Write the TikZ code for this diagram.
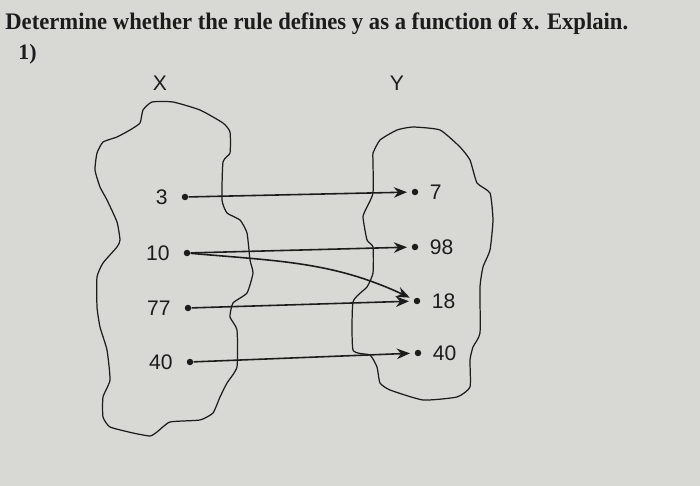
\documentclass[tikz,border=0pt]{standalone}
\usepackage{fontspec}
\setsansfont{Liberation Sans}
\newfontfamily\titlefont{Liberation Serif}
\usetikzlibrary{positioning, arrows.meta}
\definecolor{paper}{RGB}{216,216,212}
\definecolor{ink}{RGB}{28,28,28}

\begin{document}
\begin{tikzpicture}[x=0.02cm, y=-0.02cm,
    dot/.style={circle, fill=ink, inner sep=0, minimum size=0.13cm},
    num/.style={font=\sffamily\fontsize{12}{14}\selectfont, text=ink, inner sep=0},
    maps/.style={-{Stealth[length=7.5pt,width=6pt]}, line width=0.9pt, draw=ink, shorten >=2.5pt},
    blob/.style={draw=ink, line width=0.7pt, line join=round}]
      \fill[paper] (0,0) rectangle (700,486);
      \useasboundingbox (0,0) rectangle (700,486);
      \node[anchor=base west, inner sep=0, text=ink] (title) at (5,30)
      {\scalebox{0.955}[1]{\titlefont\fontsize{13.5}{15}\selectfont\bfseries
          Determine whether the rule defines y as a function of x. Explain.}};
      \node[anchor=base west, inner sep=0, text=ink] (qnum) at (18,60)
      {\titlefont\fontsize{12.5}{15}\selectfont\bfseries 1)};
      \node[num] (setx) at (160,83) {X};
      \node[num] (sety) at (397,83) {Y};
      \draw[blob] plot[smooth cycle, tension=0.3] coordinates {
        (152,102) (173,102) (200,110) (223,123) (230,132) (230,153) (223,162)
        (222,200) (227,213) (240,220) (247,233) (250,260) (253,273) (247,293)
        (233,303) (230,317) (237,330) (237,367) (227,383) (220,397) (213,413)
        (200,420) (170,422) (157,432) (150,436) (133,433) (110,427) (103,417)
        (103,397) (110,380) (107,350) (100,327) (97,307) (97,277) (103,263)
        (117,247) (120,240) (117,222) (107,200) (100,187) (95,170) (97,153)
        (103,142) (117,137) (130,130) (140,123) (143,110)};
      \draw[blob] plot[smooth cycle, tension=0.3] coordinates {
        (373,153) (380,140) (397,130) (413,127) (440,130) (460,147) (470,160)
        (477,183) (490,193) (493,220) (490,250) (483,267) (480,287) (480,333)
        (473,347) (470,360) (470,387) (457,397) (423,400) (390,390) (380,383)
        (377,367) (370,355) (353,350) (353,302) (367,287) (373,273) (373,247)
        (367,240) (363,217) (367,207) (373,193) (373,160)};
      \node[dot] (x3) at (185,197) {};
      \node[dot] (x10) at (187,253) {};
      \node[dot] (x77) at (188,308) {};
      \node[dot] (x40) at (190,362) {};
      \node[dot] (y7) at (415,192) {};
      \node[dot] (y98) at (415,247) {};
      \node[dot] (y18) at (417,301) {};
      \node[dot] (y40) at (418,353) {};
      \node[num, left=0.27cm of x3] {3};
      \node[num, left=0.27cm of x10] {10};
      \node[num, left=0.27cm of x77] {77};
      \node[num, left=0.27cm of x40] {40};
      \node[num, right=0.22cm of y7] {7};
      \node[num, right=0.22cm of y98] {98};
      \node[num, right=0.22cm of y18] {18};
      \node[num, right=0.22cm of y40] {40};
      \draw[maps] (x3) -- (y7);
      \draw[maps] (x10) -- (y98);
      \draw[maps] (x10) to[out=-5, in=155] (y18);
      \draw[maps] (x77) -- (y18);
      \draw[maps] (x40) -- (y40);
    \end{tikzpicture}
\end{document}
